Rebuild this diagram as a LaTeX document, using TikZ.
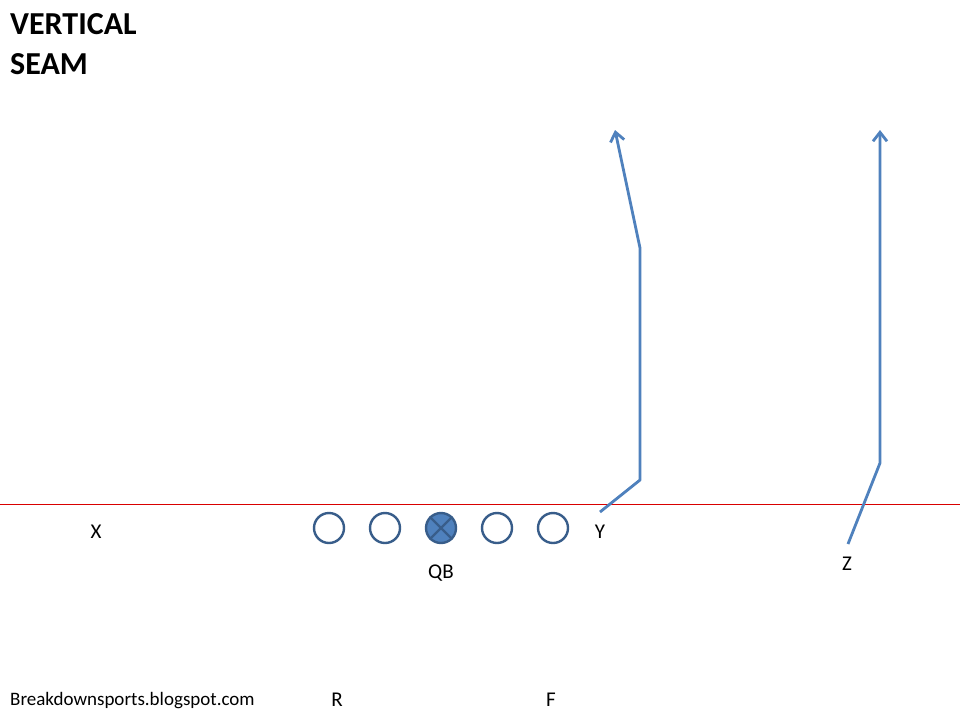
\documentclass[tikz,border=0pt]{standalone}
\usepackage{fontspec}
\setmainfont{Carlito}
\usetikzlibrary{arrows.meta}
\definecolor{routeblue}{HTML}{4F81BD}
\definecolor{lineblue}{HTML}{385D8A}
\newcommand{\lineman}[2] % name, x in px
{
	% draw open circle for a lineman
	\node[lineman] (#1) at (#2,528) {};
}
\begin{document}
\begin{tikzpicture}[x=1pt, y=-1pt,
	lineman/.style={circle, draw=lineblue, line width=2.4pt, minimum size=30pt, inner sep=0pt},
	route/.style={draw=routeblue, line width=2.8pt, line join=round},
	tag/.style={font=\fontsize{21}{25}\selectfont, inner sep=0pt}]
	% page: 960 x 720 px
	\useasboundingbox[fill=white] (0,0) rectangle (960,720);
	
	% title
	\node[anchor=north west, align=left, inner sep=0pt, font=\fontsize{32}{40}\selectfont\bfseries] (title) at (10,13) {VERTICAL\\SEAM};
	
	% line of scrimmage
	\draw[red!85!black, line width=0.8pt] (0,504) -- (960,504);
	
	% offensive line
	\lineman{lt}{329};
	\lineman{lg}{385};
	\lineman{rg}{497};
	\lineman{rt}{553};
	
	% center / QB
	\node[lineman, fill=routeblue] (c) at (441,528) {};
	\draw[lineblue, line width=2.4pt] (c.north west) -- (c.south east);
	\draw[lineblue, line width=2.4pt] (c.north east) -- (c.south west);
	
	% players
	\node[tag] (x) at (96,532) {X};
	\node[tag] (y) at (600,532) {Y};
	\node[tag] (qb) at (441,573) {QB};
	\node[tag] (z) at (847,564) {Z};
	\node[tag] (r) at (337,700) {R};
	\node[tag] (f) at (551,700) {F};
	\node[anchor=west, inner sep=0pt, font=\fontsize{19}{23}\selectfont] (site) at (10,701) {Breakdownsports.blogspot.com};
	
	% Y seam
	\coordinate (ystart) at (600,512);
	\coordinate (ybreak) at (640,480);
	\coordinate (ystem) at (640,248);
	\coordinate (yend) at (615,130);
	\draw[route, -{Straight Barb[length=9pt, width=14pt, line width=2.8pt]}] (ystart) -- (ybreak) -- (ystem) -- (yend);
	
	% Z vertical
	\coordinate (zstart) at (848,544);
	\coordinate (zbreak) at (880,463);
	\coordinate (zend) at (880,130);
	\draw[route, -{Straight Barb[length=9pt, width=14pt, line width=2.8pt]}] (zstart) -- (zbreak) -- (zend);
	
\end{tikzpicture}
\end{document}
